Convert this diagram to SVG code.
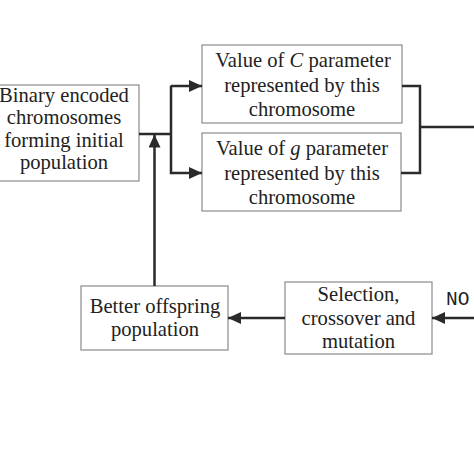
<svg xmlns="http://www.w3.org/2000/svg" width="474" height="474" viewBox="0 0 474 474">
<style>
.box{fill:#fff;stroke:#8a8a8a;stroke-width:1.2}
.t{font-family:"Liberation Serif","Times New Roman",serif;font-size:20.6px;fill:#222;text-anchor:middle}
.c{fill:none;stroke:#2a2a2a;stroke-width:2.5}
.lbl{font-family:"Liberation Mono","Courier New",monospace;font-size:19.5px;fill:#222}
</style>
<defs>
<marker id="ah" markerUnits="userSpaceOnUse" markerWidth="13" markerHeight="12" refX="13" refY="6" orient="auto">
<path d="M0,0 L13,6 L0,12 z" fill="#2a2a2a"/>
</marker>
</defs>
<rect width="474" height="474" fill="#fff"/>
<g id="n1">
<rect class="box" x="-11" y="85" width="150" height="96"/>
<text class="t" x="64" y="102">Binary encoded</text>
<text class="t" x="64" y="124">chromosomes</text>
<text class="t" x="64" y="147">forming initial</text>
<text class="t" x="64" y="169">population</text>
</g>
<g id="n2">
<rect class="box" x="202" y="45" width="200" height="78"/>
<text class="t" x="303" y="67">Value of <tspan font-style="italic">C</tspan> parameter</text>
<text class="t" x="302" y="92">represented by this</text>
<text class="t" x="302" y="116">chromosome</text>
</g>
<g id="n3">
<rect class="box" x="202" y="133" width="199" height="78"/>
<text class="t" x="302" y="155">Value of <tspan font-style="italic">g</tspan> parameter</text>
<text class="t" x="302" y="180">represented by this</text>
<text class="t" x="302" y="204">chromosome</text>
</g>
<g id="n4">
<rect class="box" x="81" y="286" width="147" height="64"/>
<text class="t" x="155" y="313">Better offspring</text>
<text class="t" x="155" y="336">population</text>
</g>
<g id="n5">
<rect class="box" x="285" y="282" width="147" height="72"/>
<text class="t" x="358.5" y="301">Selection,</text>
<text class="t" x="358.5" y="325">crossover and</text>
<text class="t" x="358.5" y="348">mutation</text>
</g>
<g id="connectors">
<path class="c" d="M139,134 H171 M171,134 V85.5"/>
<path class="c" d="M171,86 H202" marker-end="url(#ah)"/>
<path class="c" d="M171,134 V173 H202" marker-end="url(#ah)"/>
<path class="c" d="M154.5,286 V134.5" marker-end="url(#ah)"/>
<path class="c" d="M402,86 H420 V173 H401 M420,127 H474"/>
<path class="c" d="M285,318 H228" marker-end="url(#ah)"/>
<path class="c" d="M474,318 H432" marker-end="url(#ah)"/>
<text class="lbl" x="446" y="305">NO</text>
</g>
</svg>
